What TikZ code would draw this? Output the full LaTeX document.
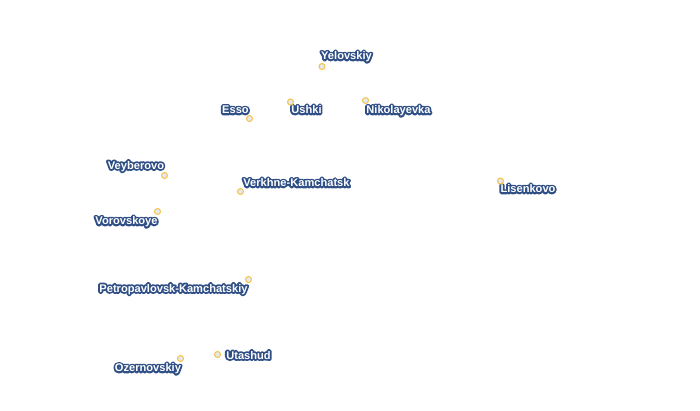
\documentclass[tikz,border=0pt]{standalone}
\usepackage{fontspec}
\setmainfont{Liberation Sans}
\usepackage{xcolor}
\usepackage{tikz}
\definecolor{cityBlue}{HTML}{2F4F86}
\definecolor{dotYellow}{HTML}{F6C244}
\definecolor{dotGray}{HTML}{E6E8F0}
\newcommand{\halotext}[1]{\leavevmode\rlap{\kern-0.2pt\raisebox{0.2pt}{\special{pdf:code q 2 Tr 3.6 w 1 j 1 J 0.184 0.31 0.525 RG 0.184 0.31 0.525 rg}#1\special{pdf:code Q}}}#1}
\begin{document}
\begin{tikzpicture}[
    x=1pt, y=-1pt,
    dot/.style={circle, draw=dotYellow, fill=dotGray, line width=1pt, minimum size=6pt, inner sep=0pt},
    city/.style={inner sep=0pt, anchor=base, text=white, font=\fontsize{11.1}{13}\selectfont\bfseries},
]
    \useasboundingbox (0,0) rectangle (700,410);
    % Labels
    \node[city] (yelovskiy) at (346.5,59.7) {\halotext{Yelovskiy}};
    \node[city] (esso) at (235.5,113.7) {\halotext{Esso}};
    \node[city] (ushki) at (306.5,113.7) {\halotext{Ushki}};
    \node[city] (nikolayevka) at (398.5,113.7) {\halotext{Nikolayevka}};
    \node[city] (veyberovo) at (136,169.2) {\halotext{Veyberovo}};
    \node[city] (verkhne) at (296.5,186.7) {\halotext{Verkhne-Kamchatsk}};
    \node[city] (lisenkovo) at (528,192.7) {\halotext{Lisenkovo}};
    \node[city] (vorovskoye) at (126.5,224.7) {\halotext{Vorovskoye}};
    \node[city] (petropavlovsk) at (173.5,292.2) {\halotext{Petropavlovsk-Kamchatskiy}};
    \node[city] (utashud) at (248.5,359.2) {\halotext{Utashud}};
    \node[city] (ozernovskiy) at (148,371.7) {\halotext{Ozernovskiy}};

    % Dots
    \node[dot] (yelovskiyDot) at (322,66.5) {};
    \node[dot] (essoDot) at (249.5,118.5) {};
    \node[dot] (ushkiDot) at (290.5,102) {};
    \node[dot] (nikolayevkaDot) at (365.5,100.5) {};
    \node[dot] (veyberovoDot) at (164.5,175.5) {};
    \node[dot] (verkhneDot) at (240.5,191.5) {};
    \node[dot] (lisenkovoDot) at (500.5,181) {};
    \node[dot] (vorovskoyeDot) at (157.5,211.5) {};
    \node[dot] (petropavlovskDot) at (248.5,279.5) {};
    \node[dot] (utashudDot) at (217.5,354.5) {};
    \node[dot] (ozernovskiyDot) at (180.5,358.5) {};
\end{tikzpicture}
\end{document}
